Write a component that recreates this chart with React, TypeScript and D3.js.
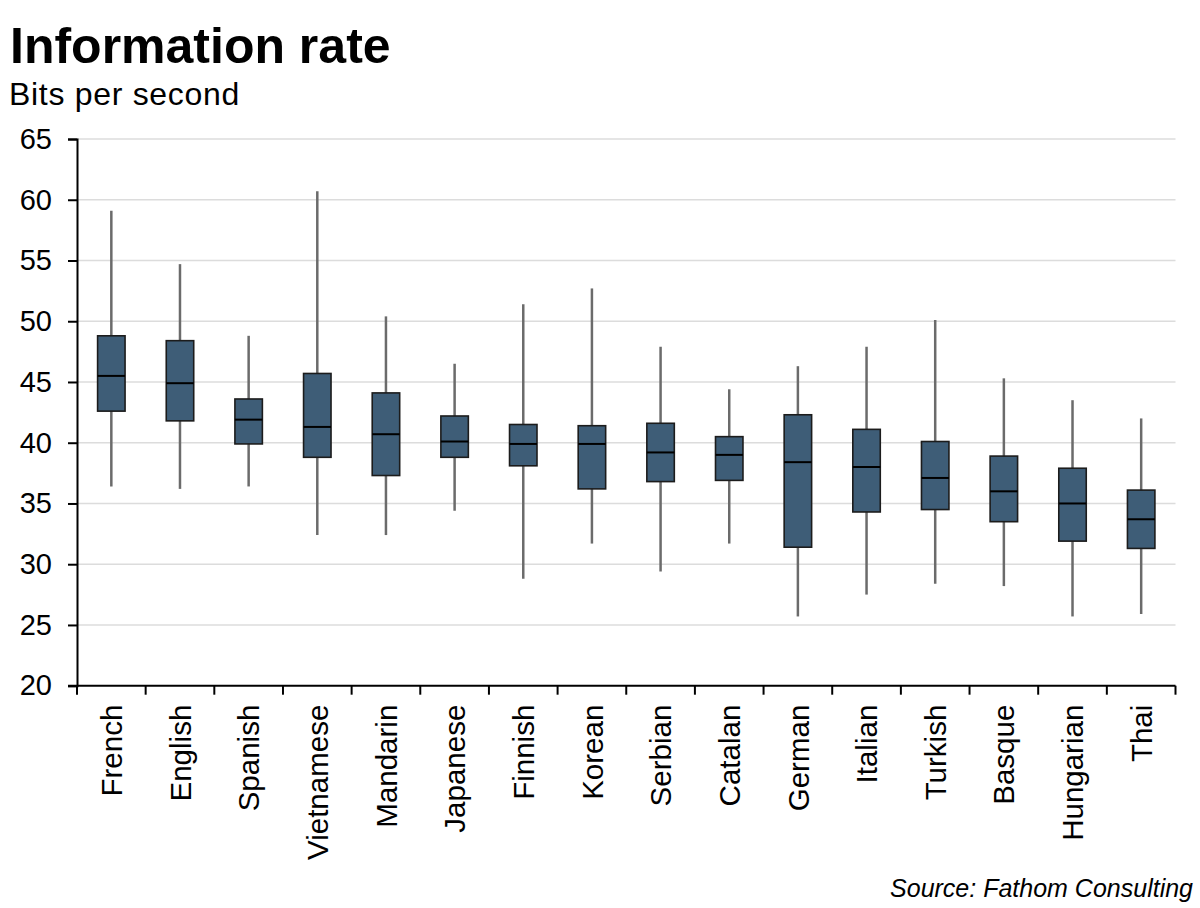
import { useEffect, useRef } from 'react'
import * as d3 from 'd3'

const LANGUAGES = [
  'French', 'English', 'Spanish', 'Vietnamese', 'Mandarin', 'Japanese', 'Finnish', 'Korean',
  'Serbian', 'Catalan', 'German', 'Italian', 'Turkish', 'Basque', 'Hungarian', 'Thai',
]
const WHISKER_HI = [59.1, 54.7, 48.8, 60.7, 50.4, 46.5, 51.4, 52.7, 47.9, 44.4, 46.3, 47.9, 50.1, 45.3, 43.5, 42.0]
const BOX_HI = [48.8, 48.4, 43.6, 45.7, 44.1, 42.2, 41.5, 41.4, 41.6, 40.5, 42.3, 41.1, 40.1, 38.9, 37.9, 36.1]
const MEDIAN = [45.5, 44.9, 41.9, 41.3, 40.7, 40.1, 39.9, 39.9, 39.2, 39.0, 38.4, 38.0, 37.1, 36.0, 35.0, 33.7]
const BOX_LO = [42.6, 41.8, 39.9, 38.8, 37.3, 38.8, 38.1, 36.2, 36.8, 36.9, 31.4, 34.3, 34.5, 33.5, 31.9, 31.3]
const WHISKER_LO = [36.4, 36.2, 36.4, 32.4, 32.4, 34.4, 28.8, 31.7, 29.4, 31.7, 25.7, 27.5, 28.4, 28.2, 25.7, 25.9]
const Y_TICKS = [20, 25, 30, 35, 40, 45, 50, 55, 60, 65]

const FONT = "'Liberation Sans', Arial, Helvetica, sans-serif"
const BOX_FILL = '#3e5d77'

export default function App() {
  const svgRef = useRef<SVGSVGElement>(null)

  useEffect(() => {
    if (!svgRef.current) return
    const svg = d3.select(svgRef.current)
    svg.selectAll('*').remove()

    const rows = LANGUAGES.map((name, i) => ({
      name,
      hi: WHISKER_HI[i],
      q3: BOX_HI[i],
      med: MEDIAN[i],
      q1: BOX_LO[i],
      lo: WHISKER_LO[i],
    }))

    const left = 77
    const right = 1175.5
    const top = 139
    const bottom = 685.7

    const x = d3.scaleBand().domain(LANGUAGES).range([left, right]).padding(0)
    const y = d3.scaleLinear().domain([20, 65]).range([bottom, top])
    const boxW = x.bandwidth() * 0.4

    // Titles
    svg.append('text')
      .attr('x', 10).attr('y', 63)
      .attr('font-family', FONT).attr('font-size', 50).attr('font-weight', 700)
      .attr('fill', '#000')
      .text('Information rate')
    svg.append('text')
      .attr('x', 9).attr('y', 105)
      .attr('font-family', FONT).attr('font-size', 32)
      .attr('letter-spacing', 0.7)
      .attr('fill', '#000')
      .text('Bits per second')

    // Gridlines
    svg.append('g')
      .selectAll('line')
      .data(Y_TICKS.filter((t) => t > 20))
      .join('line')
      .attr('x1', left).attr('x2', right)
      .attr('y1', (d) => y(d)).attr('y2', (d) => y(d))
      .attr('stroke', '#dcdcdc').attr('stroke-width', 1.5)

    // Whiskers
    const g = svg.append('g')
    g.selectAll('line.whisker')
      .data(rows)
      .join('line')
      .attr('class', 'whisker')
      .attr('x1', (d) => x(d.name)! + x.bandwidth() / 2)
      .attr('x2', (d) => x(d.name)! + x.bandwidth() / 2)
      .attr('y1', (d) => y(d.hi)).attr('y2', (d) => y(d.lo))
      .attr('stroke', '#6b6b6b').attr('stroke-width', 2.5)

    // Boxes
    g.selectAll('rect.box')
      .data(rows)
      .join('rect')
      .attr('class', 'box')
      .attr('x', (d) => x(d.name)! + (x.bandwidth() - boxW) / 2)
      .attr('width', boxW)
      .attr('y', (d) => y(d.q3))
      .attr('height', (d) => y(d.q1) - y(d.q3))
      .attr('fill', BOX_FILL)
      .attr('stroke', '#1c1c1c').attr('stroke-width', 1.6)

    // Medians
    g.selectAll('line.median')
      .data(rows)
      .join('line')
      .attr('class', 'median')
      .attr('x1', (d) => x(d.name)! + (x.bandwidth() - boxW) / 2)
      .attr('x2', (d) => x(d.name)! + (x.bandwidth() + boxW) / 2)
      .attr('y1', (d) => y(d.med)).attr('y2', (d) => y(d.med))
      .attr('stroke', '#000').attr('stroke-width', 2)

    // Y axis
    const yAxis = svg.append('g')
      .attr('transform', `translate(${left},0)`)
      .call(d3.axisLeft(y).tickValues(Y_TICKS).tickSize(9).tickPadding(16))
    yAxis.select('.domain').attr('stroke', '#000').attr('stroke-width', 2)
    yAxis.selectAll('.tick line').attr('stroke', '#000').attr('stroke-width', 2)
    yAxis.selectAll('.tick text')
      .attr('font-family', FONT).attr('font-size', 29).attr('fill', '#000')

    // X axis: ticks sit on band boundaries
    const xg = svg.append('g')
    xg.append('line')
      .attr('x1', left - 9).attr('x2', right)
      .attr('y1', bottom).attr('y2', bottom)
      .attr('stroke', '#000').attr('stroke-width', 2)
    const bounds = LANGUAGES.map((n) => x(n)!).concat([right])
    xg.selectAll('line.xtick')
      .data(bounds)
      .join('line')
      .attr('class', 'xtick')
      .attr('x1', (d) => d).attr('x2', (d) => d)
      .attr('y1', bottom).attr('y2', bottom + 9)
      .attr('stroke', '#000').attr('stroke-width', 2)
    xg.selectAll('text.xlabel')
      .data(LANGUAGES)
      .join('text')
      .attr('class', 'xlabel')
      .attr('transform', (d) => `translate(${x(d)! + x.bandwidth() / 2},${bottom + 19}) rotate(-90)`)
      .attr('text-anchor', 'end')
      .attr('dy', '0.36em')
      .attr('font-family', FONT).attr('font-size', 29.5).attr('fill', '#000')
      .text((d) => d)

    // Source
    svg.append('text')
      .attr('x', 1193).attr('y', 897)
      .attr('text-anchor', 'end')
      .attr('font-family', FONT).attr('font-size', 25).attr('font-style', 'italic')
      .attr('fill', '#000')
      .text('Source: Fathom Consulting')
  }, [])

  return (
    <svg
      ref={svgRef}
      width={1200}
      height={908}
      style={{ position: 'absolute', left: 0, top: 0, background: '#fff' }}
    />
  )
}
